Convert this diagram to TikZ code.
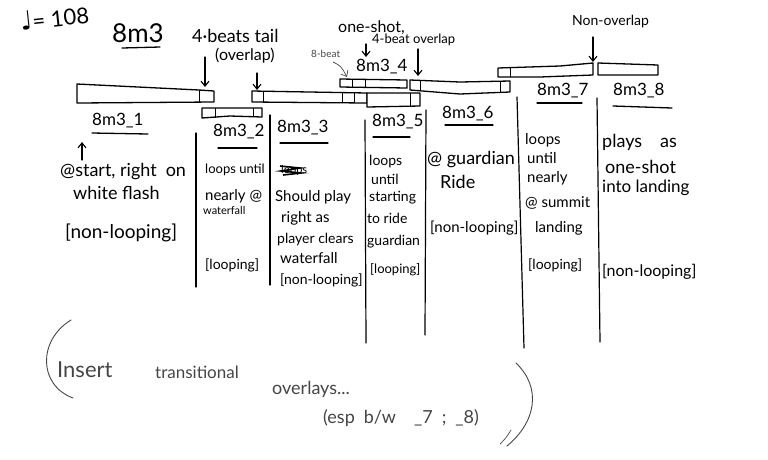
\documentclass[tikz,border=0pt]{standalone}
\usepackage{fontspec}
\setmainfont{Lato}
\newfontfamily\symf{DejaVu Sans}
\usetikzlibrary{arrows.meta}
\newcommand{\hsz}[1]{\fontsize{#1}{#1}\selectfont}
\definecolor{pencil}{RGB}{70,70,70}
\begin{document}
\begin{tikzpicture}[x=1pt,y=-1pt,
  ink/.style={line width=1.3pt, line cap=round, line join=round},
  bar/.style={ink, fill=white},
  divi/.style={line width=0.6pt},
  col/.style={ink, line width=1.2pt},
  arr/.style={ink, line width=1.1pt, -{Straight Barb[length=5pt,width=8pt]}},
  txt/.style={inner sep=0pt, anchor=west, font=\hsz{14}},
  lbl/.style={txt, font=\hsz{17}},
  soft/.style={txt, text=pencil},
]
\useasboundingbox (0,0) rectangle (768,459);
\fill[white] (0,0) rectangle (768,459);

% ---------- header ----------
\node[txt, font=\hsz{22}, rotate=6] (tempo) at (20,21) {{\symf\hsz{26}♩}= 108};
\node[txt, font=\hsz{26}] (title) at (112,33) {8m3};
\draw[ink] (122,48) -- (160,47);

\node[txt, font=\hsz{18}] (beats) at (192,36) {4·beats tail};
\node[txt, font=\hsz{16}] (ovl) at (215,56) {(overlap)};
\node[txt, font=\hsz{16}] (oneshot) at (338,28) {one-shot,};
\node[txt, font=\hsz{13}] (fourbeat) at (372,40) {4-beat overlap};
\node[soft, font=\hsz{10}] (eightbeat) at (311,54) {8-beat};
\node[txt, font=\hsz{14}] (nonov) at (572,22) {Non-overlap};

% ---------- bars ----------
% 8m3_1
\draw[bar] (77,84) -- (199,90) -- (214,91) -- (214,102) -- (77,103) -- cycle;
\draw[divi] (199,90) -- (199,102);
% 8m3_2
\draw[bar] (202,108) -- (262,108) -- (262,117) -- (230,116) -- (202,118) -- cycle;
\draw[divi] (215,108) -- (215,118) (253,108) -- (253,117);
% 8m3_3
\draw[bar] (252,91) -- (367,93) -- (367,103) -- (252,102) -- cycle;
\draw[divi] (263,91) -- (263,102) (342,92) -- (342,103) (354,92) -- (354,103);
% 8m3_4
\draw[bar] (340,79) -- (407,80) -- (407,88) -- (340,87) -- cycle;
\draw[divi] (352,79) -- (352,87) (365,79) -- (365,87);
% 8m3_5
\draw[bar] (367,93) -- (420,93) -- (420,106) -- (367,107) -- cycle;
\draw[divi] (410,93) -- (410,106);
% 8m3_6
\draw[bar] (410,80) -- (460,82) -- (510,81) -- (510,92) -- (460,94) -- (410,90) -- cycle;
\draw[divi] (420,81) -- (420,90) (500,81) -- (500,92);
% 8m3_7
\draw[bar] (498,68) -- (560,66) -- (593,63) -- (593,75) -- (540,77) -- (498,77) -- cycle;
\draw[divi] (510,67) -- (510,77);
% 8m3_8
\draw[bar] (598,63) -- (658,65) -- (658,75) -- (598,75) -- cycle;

% ---------- arrows ----------
\coordinate (a1s) at (205,57);  \coordinate (a1e) at (205,87);
\coordinate (a2s) at (257,73);  \coordinate (a2e) at (257,90);
\coordinate (a3s) at (366,44);  \coordinate (a3e) at (366,57);
\coordinate (a4s) at (418,49);  \coordinate (a4e) at (418,76);
\coordinate (a5s) at (333,62);  \coordinate (a5e) at (347,77);
\coordinate (a6s) at (593,37);  \coordinate (a6e) at (593,62);
\coordinate (a7s) at (82,160);  \coordinate (a7e) at (82,142);
\draw[arr] (a1s) -- (a1e);
\draw[arr] (a2s) -- (a2e);
\draw[arr] (a3s) -- (a3e);
\draw[arr] (a4s) -- (a4e);
\draw[arr, draw=pencil, line width=0.7pt] (a5s) .. controls (341,66) .. (a5e);
\draw[arr] (a6s) -- (a6e);
\draw[arr] (a7s) -- (a7e);

% ---------- column labels ----------
\node[lbl] (l1) at (92,121) {8m3\_1};
\draw[ink] (92,133) -- (148,134);
\node[lbl] (l2) at (213,132) {8m3\_2};
\draw[ink] (218,148) -- (257,148);
\node[lbl] (l3) at (277,128) {8m3\_3};
\draw[ink] (280,143) -- (328,143);
\node[lbl] (l4) at (356,67) {8m3\_4};
\node[lbl] (l5) at (372,122) {8m3\_5};
\draw[ink] (373,137) -- (410,137);
\node[lbl] (l6) at (442,114) {8m3\_6};
\draw[ink] (445,125) -- (493,125);
\node[lbl] (l7) at (537,91) {8m3\_7};
\draw[ink] (537,103) -- (582,103);
\node[lbl] (l8) at (613,91) {8m3\_8};
\draw[ink] (613,106) -- (672,108);

% ---------- column lines ----------
\draw[col] (196,133) -- (196,287);
\draw[col] (270,115) -- (270,285);
\draw[col] (365,120) -- (366,343);
\draw[col] (426,110) -- (425,335);
\draw[col] (517,97) -- (524,348);
\draw[col] (597,98) -- (600,342);

% ---------- column 1 ----------
\node[txt, font=\hsz{18}] (c1a) at (60,172) {@start, right\enspace on};
\node[txt, font=\hsz{18}] (c1b) at (73,193) {white flash};
\node[txt, font=\hsz{19}] (c1c) at (65,233) {[non-looping]};
% ---------- column 2 ----------
\node[txt, font=\hsz{13}] (c2a) at (205,170) {loops until};
\node[txt, font=\hsz{15}] (c2b) at (205,196) {nearly @};
\node[txt, font=\hsz{11}] (c2c) at (203,210) {waterfall};
\node[txt, font=\hsz{14}] (c2d) at (205,265) {[looping]};
% ---------- column 3 ----------
\node[txt, font=\hsz{11}] (c3x) at (281,170) {loops};
\draw[line width=1.6pt] (280,166) -- (300,168) -- (281,171) -- (301,173) -- (283,175);
\node[txt, font=\hsz{15}] (c3a) at (275,197) {Should play};
\node[txt, font=\hsz{15}] (c3b) at (281,218) {right as};
\node[txt] (c3c) at (277,240) {player clears};
\node[txt, font=\hsz{15}] (c3d) at (280,258) {waterfall};
\node[txt] (c3e) at (280,280) {[non-looping]};
% ---------- column 5 ----------
\node[txt] (c5a) at (369,162) {loops};
\node[txt] (c5b) at (371,179) {until};
\node[txt] (c5c) at (369,198) {starting};
\node[txt] (c5d) at (367,218) {to ride};
\node[txt] (c5e) at (367,242) {guardian};
\node[txt, font=\hsz{13}] (c5f) at (370,270) {[looping]};
% ---------- column 6 ----------
\node[txt, font=\hsz{18}] (c6a) at (427,160) {@ guardian};
\node[txt, font=\hsz{18}] (c6b) at (440,182) {Ride};
\node[txt, font=\hsz{15}] (c6c) at (430,228) {[non-looping]};
% ---------- column 7 ----------
\node[txt, font=\hsz{15}] (c7a) at (525,140) {loops};
\node[txt, font=\hsz{15}] (c7b) at (527,158) {until};
\node[txt, font=\hsz{15}] (c7c) at (527,178) {nearly};
\node[txt, font=\hsz{15}] (c7d) at (525,203) {@ summit};
\node[txt, font=\hsz{15}] (c7e) at (535,228) {landing};
\node[txt, font=\hsz{14}] (c7f) at (528,265) {[looping]};
% ---------- column 8 ----------
\node[txt, font=\hsz{18}] (c8a) at (602,142) {plays\quad as};
\node[txt, font=\hsz{18}] (c8b) at (605,167) {one-shot};
\node[txt, font=\hsz{17}] (c8c) at (602,188) {into landing};
\node[txt, font=\hsz{16}] (c8d) at (602,272) {[non-looping]};

% ---------- bottom note ----------
\draw[ink, draw=pencil, line width=0.9pt] (71,320) .. controls (38,340) and (38,385) .. (73,398);
\node[soft, font=\hsz{22}] (n1) at (57,370) {Insert};
\node[soft, font=\hsz{17}] (n2) at (155,372) {transitional};
\node[soft, font=\hsz{18}] (n3) at (272,389) {overlays...};
\node[soft, font=\hsz{18}] (n4) at (323,418) {(esp\enspace b/w\quad \_7\enspace ;\enspace \_8)};
\draw[ink, draw=pencil, line width=0.9pt] (516,363) .. controls (542,388) and (536,422) .. (507,446);
\draw[ink, draw=pencil, line width=0.7pt] (511,430) .. controls (506,438) .. (500,444);
\end{tikzpicture}
\end{document}
